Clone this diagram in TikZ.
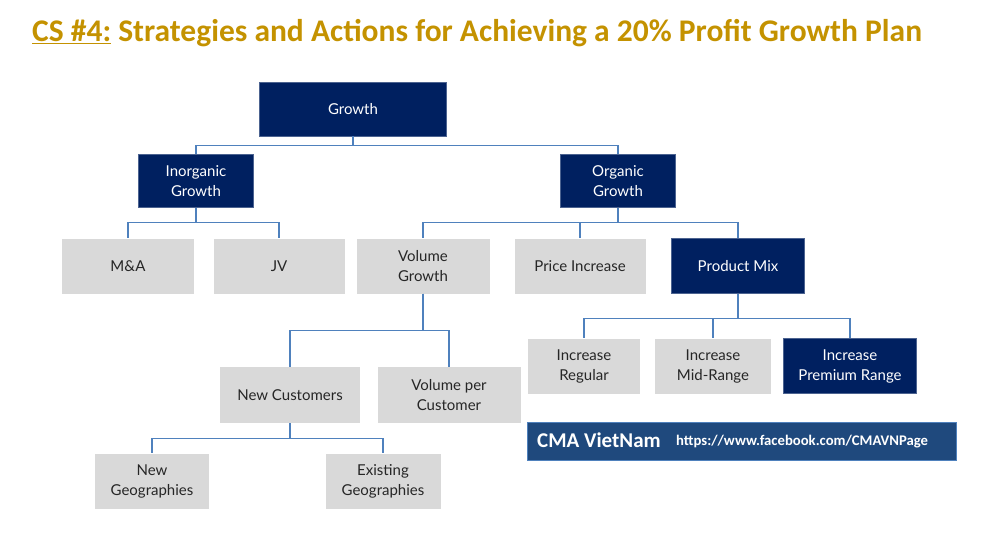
\documentclass[tikz,border=0pt]{standalone}
\usepackage{fontspec}
\setmainfont{Lato}
\newfontfamily\calfont{Carlito}
\definecolor{navy}{RGB}{0,32,96}
\definecolor{lgray}{RGB}{217,217,217}
\definecolor{gold}{RGB}{196,146,0}
\definecolor{lblue}{RGB}{79,129,189}
\definecolor{banner}{RGB}{31,73,125}
\begin{document}
\begin{tikzpicture}[x=1pt,y=-1pt,
  gbox/.style={fill=lgray,minimum width=#1,minimum height=55pt,align=center,font=\fontsize{15}{20}\selectfont,text=black!85},
  gbox/.default=132pt,
  dbox/.style={fill=navy,draw=navy!70,minimum width=#1,minimum height=53pt,align=center,font=\fontsize{15}{20}\selectfont,text=white},
  dbox/.default=115pt,
  conn/.style={draw=lblue,line width=1.2pt}]
\useasboundingbox (0,0) rectangle (982,543);
\node[font=\calfont\bfseries\fontsize{31.5}{34}\selectfont,text=gold,anchor=west,inner sep=0pt] (title) at (32,33) {\underline{CS \#4:} Strategies and Actions for Achieving a 20\% Profit Growth Plan};
\node[dbox=187pt,minimum height=54pt] (g) at (353,109) {Growth};
\node[dbox] (ig) at (196,181) {Inorganic\\Growth};
\node[dbox] (og) at (618,181) {Organic\\Growth};
\node[gbox] (ma) at (128,266) {M\&A};
\node[gbox=131pt] (jv) at (279,266) {JV};
\node[gbox=133pt] (vg) at (423,266) {Volume\\Growth};
\node[gbox=131pt] (pi) at (580,266) {Price Increase};
\node[dbox=133pt,minimum height=55pt] (pm) at (738,266) {Product Mix};
\node[gbox=112pt] (ir) at (584,366) {Increase\\Regular};
\node[gbox=116pt] (im) at (713,366) {Increase\\Mid-Range};
\node[dbox=133pt,minimum height=55pt] (ip) at (850,366) {Increase\\Premium Range};
\node[gbox=140pt,minimum height=56pt] (nc) at (290,395) {New Customers};
\node[gbox=143pt,minimum height=56pt] (vc) at (449,395) {Volume per\\Customer};
\node[gbox=114pt] (ng) at (152,481) {New\\Geographies};
\node[gbox=115pt] (eg) at (383,481) {Existing\\Geographies};
\node[fill=banner,draw=lblue,minimum width=429pt,minimum height=38pt,anchor=west] (cma) at (527,441) {};
\node[anchor=west,text=white,font=\calfont\bfseries\fontsize{21}{23}\selectfont,inner sep=0pt] (cmat) at (537,440) {CMA VietNam};
\node[anchor=west,text=white,font=\calfont\bfseries\fontsize{14.7}{16}\selectfont,inner sep=0pt] (url) at (676,442) {https://www.facebook.com/CMAVNPage};
\draw[conn] (g.south) -- ++(0,9) -| (ig.north);
\draw[conn] (g.south) -- ++(0,9) -| (og.north);
\draw[conn] (ig.south) -- ++(0,15) -| (ma.north);
\draw[conn] (ig.south) -- ++(0,15) -| (jv.north);
\draw[conn] (og.south) -- ++(0,15) -| (vg.north);
\draw[conn] (og.south) -- ++(0,15) -| (pi.north);
\draw[conn] (og.south) -- ++(0,15) -| (pm.north);
\draw[conn] (vg.south) -- ++(0,37) -| (nc.north);
\draw[conn] (vg.south) -- ++(0,37) -| (vc.north);
\draw[conn] (pm.south) -- ++(0,25) -| (ir.north);
\draw[conn] (pm.south) -- ++(0,25) -| (im.north);
\draw[conn] (pm.south) -- ++(0,25) -| (ip.north);
\draw[conn] (nc.south) -- ++(0,15) -| (ng.north);
\draw[conn] (nc.south) -- ++(0,15) -| (eg.north);
\end{tikzpicture}
\end{document}
